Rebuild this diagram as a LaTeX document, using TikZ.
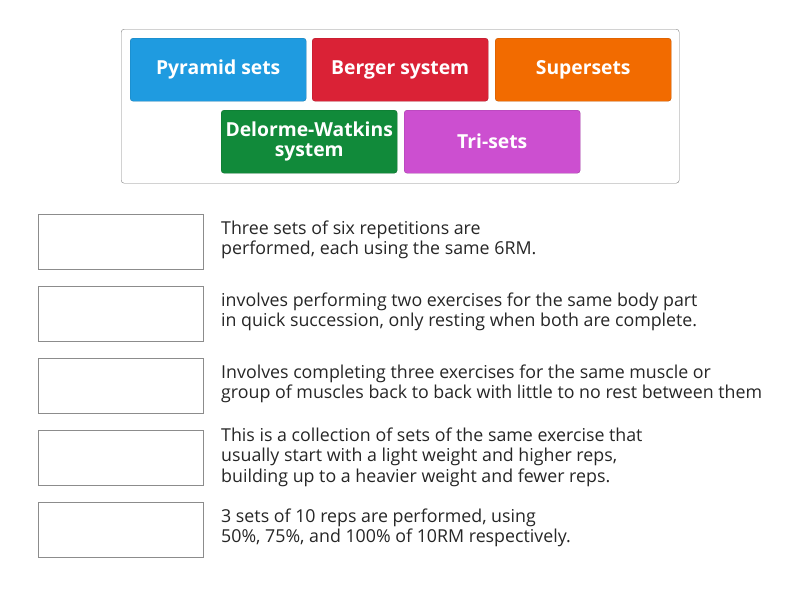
\documentclass[tikz,border=0pt]{standalone}
\usepackage{fontspec}
\setmainfont{Open Sans}
\definecolor{cblue}{HTML}{1F9BE0}
\definecolor{cred}{HTML}{DA2236}
\definecolor{corange}{HTML}{F26B00}
\definecolor{cgreen}{HTML}{118A3A}
\definecolor{cpurple}{HTML}{CC4FD0}
\tikzset{
 tile/.style={draw=#1!80!black, fill=#1, rounded corners=3pt, minimum width=176pt, minimum height=63pt, text=white, font=\bfseries\fontsize{19.3}{22}\selectfont, align=center, inner sep=0pt, anchor=north west},
 slot/.style={draw=black!45, fill=white, minimum width=165pt, minimum height=55pt, anchor=north west, inner sep=0pt},
 desc/.style={anchor=west, align=left, font=\fontsize{17.8}{20.5}\selectfont, text=black!85, inner sep=0pt}
}
\begin{document}
\begin{tikzpicture}[x=1pt,y=-1pt]
\useasboundingbox (0,0) rectangle (800,600);
\fill[white] (0,0) rectangle (800,600);
\node[draw=black!50, rounded corners=3pt, minimum width=558pt, minimum height=154pt, anchor=north west, inner sep=0pt] (frame) at (121,29) {};
\node[tile=cblue] (t1) at (130,38) {Pyramid sets};
\node[tile=cred] (t2) at (312,38) {Berger system};
\node[tile=corange] (t3) at (495,38) {Supersets};
\node[tile=cgreen] (t4) at (221,110) {Delorme-Watkins\\[-2pt]system};
\node[tile=cpurple] (t5) at (404,110) {Tri-sets};
\node[slot] (s1) at (38,214) {};
\node[slot] (s2) at (38,286) {};
\node[slot] (s3) at (38,358) {};
\node[slot] (s4) at (38,430) {};
\node[slot] (s5) at (38,502) {};
\node[desc] (d1) at (221,240) {Three sets of six repetitions are\\performed, each using the same 6RM.};
\node[desc] (d2) at (221,312) {involves performing two exercises for the same body part\\in quick succession, only resting when both are complete.};
\node[desc] (d3) at (221,384) {Involves completing three exercises for the same muscle or\\group of muscles back to back with little to no rest between them};
\node[desc] (d4) at (221,457) {This is a collection of sets of the same exercise that\\usually start with a light weight and higher reps,\\building up to a heavier weight and fewer reps.};
\node[desc] (d5) at (221,528) {3 sets of 10 reps are performed, using\\50\%, 75\%, and 100\% of 10RM respectively.};
\end{tikzpicture}
\end{document}
